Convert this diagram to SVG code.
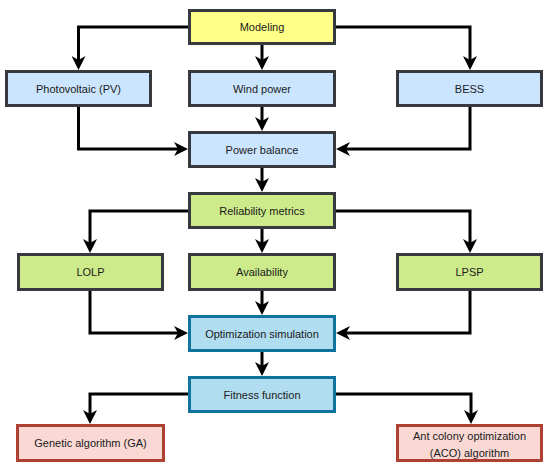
<svg xmlns="http://www.w3.org/2000/svg" width="550" height="469" viewBox="0 0 550 469">
<defs>
<style>
rect{stroke-width:3}
.y{fill:#ffff88;stroke:#36393d}
.b{fill:#cce5ff;stroke:#36393d}
.g{fill:#cdeb8b;stroke:#36393d}
.o{fill:#b1ddf0;stroke:#10739e}
.r{fill:#fad9d5;stroke:#ae4132}
text{font-family:"Liberation Sans",Arial,sans-serif;font-size:11px;fill:#1a1a1a;text-anchor:middle;dominant-baseline:central}
.c path{fill:none;stroke:#000;stroke-width:3;marker-end:url(#ah)}
</style>
<marker id="ah" markerUnits="userSpaceOnUse" markerWidth="14" markerHeight="14" refX="8" refY="7" orient="auto">
<path d="M0,0 L14,7 L0,14 L4,7 z" fill="#000" stroke="none"/>
</marker>
</defs>
<g class="c" id="connectors">
<path d="M188,27 H78.5 V64"/>
<path d="M262,45 V64"/>
<path d="M336,27 H470 V64"/>
<path d="M78.5,107 V149 H182"/>
<path d="M262,107 V125"/>
<path d="M470,107 V149 H342"/>
<path d="M262,168 V186"/>
<path d="M188,211 H90 V247"/>
<path d="M262,229 V247"/>
<path d="M336,211 H470 V247"/>
<path d="M90,291 V333 H182"/>
<path d="M262,291 V309"/>
<path d="M470,291 V333 H342"/>
<path d="M262,352 V370"/>
<path d="M188,394 H90 V418"/>
<path d="M336,394 H471 V418"/>
</g>
<g id="modeling"><rect class="y" x="189.5" y="10.5" width="145" height="33"/><text x="262" y="27">Modeling</text></g>
<g id="pv"><rect class="b" x="6.5" y="71.5" width="144" height="34"/><text x="78.5" y="88.5">Photovoltaic (PV)</text></g>
<g id="wind"><rect class="b" x="189.5" y="71.5" width="145" height="34"/><text x="262" y="88.5">Wind power</text></g>
<g id="bess"><rect class="b" x="397.5" y="71.5" width="144" height="34"/><text x="469.5" y="88.5">BESS</text></g>
<g id="powerbalance"><rect class="b" x="189.5" y="132.5" width="145" height="34"/><text x="262" y="149.5">Power balance</text></g>
<g id="reliability"><rect class="g" x="189.5" y="193.5" width="145" height="34"/><text x="262" y="210.5">Reliability metrics</text></g>
<g id="lolp"><rect class="g" x="18.5" y="254.5" width="144" height="35"/><text x="90.5" y="272">LOLP</text></g>
<g id="availability"><rect class="g" x="189.5" y="254.5" width="145" height="35"/><text x="262" y="272">Availability</text></g>
<g id="lpsp"><rect class="g" x="397.5" y="254.5" width="144" height="35"/><text x="469.5" y="272">LPSP</text></g>
<g id="optimization"><rect class="o" x="189.5" y="316.5" width="145" height="34"/><text x="262" y="333.5">Optimization simulation</text></g>
<g id="fitness"><rect class="o" x="189.5" y="377.5" width="145" height="34"/><text x="262" y="394.5">Fitness function</text></g>
<g id="ga"><rect class="r" x="17.5" y="425.5" width="146" height="35"/><text x="90.5" y="443">Genetic algorithm (GA)</text></g>
<g id="aco"><rect class="r" x="397.5" y="425.5" width="144" height="35"/><text x="469.5" y="435.5">Ant colony optimization</text><text x="469.5" y="452.5">(ACO) algorithm</text></g>
</svg>
